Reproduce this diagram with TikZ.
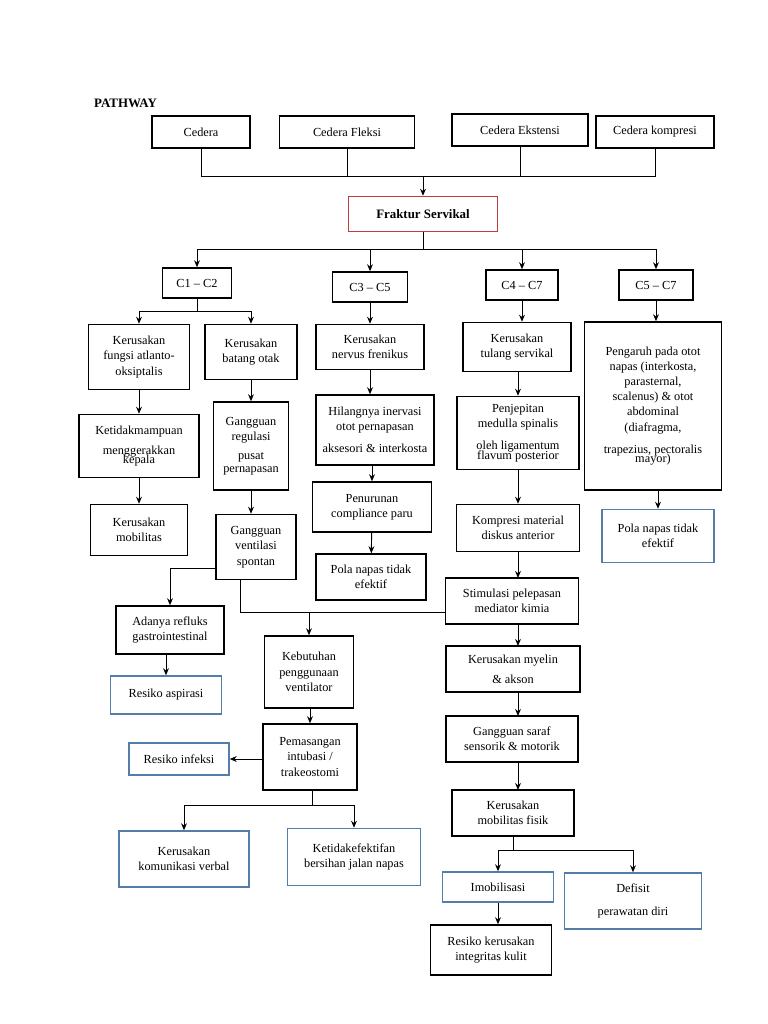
\documentclass[tikz,border=0pt]{standalone}
\usepackage{fontspec}
\setmainfont{Liberation Serif}
\usetikzlibrary{arrows.meta}
\definecolor{bblue}{RGB}{84,125,170}
\definecolor{rred}{RGB}{190,60,60}
\begin{document}
\begin{tikzpicture}[x=0.03cm,y=-0.03cm,
  every node/.style={font=\fontsize{10.5}{13}\selectfont},
  bx/.style 2 args={draw, line width=1.3pt, minimum width=#1*0.03cm, minimum height=#2*0.03cm, align=center, inner sep=1pt},
  bl/.style={draw=bblue},
  ln/.style={line width=0.8pt},
  ar/.style={line width=0.8pt, -{Stealth[length=6pt,width=5pt]}}]
\useasboundingbox (0,0) rectangle (768,1024);
\node[anchor=west, font=\fontsize{11}{13}\selectfont\bfseries] (title) at (90,103) {PATHWAY};
% top causes
\node[bx={98}{32}] (c1) at (201,132) {Cedera};
\node[bx={135}{32}] (c2) at (347,132) {Cedera Fleksi};
\node[bx={136}{32}] (c3) at (520,130) {Cedera Ekstensi};
\node[bx={118}{32}] (c4) at (655,132) {Cedera kompresi};
\node[bx={149}{35}, draw=rred, font=\fontsize{11}{13}\selectfont\bfseries] (fs) at (423,214) {Fraktur Servikal};
\coordinate (j0) at (423,176);
\draw[ln] (c1.south) -- (c1.south |- j0) -- (j0);
\draw[ln] (c2.south) -- (c2.south |- j0);
\draw[ln] (c3.south) -- (c3.south |- j0);
\draw[ln] (c4.south) -- (c4.south |- j0) -- (j0);
\draw[ar] (j0) -- (fs.north);
% levels
\node[bx={69}{30}] (l1) at (197,283) {C1 -- C2};
\node[bx={75}{30}] (l2) at (370,287) {C3 -- C5};
\node[bx={72}{30}] (l3) at (522,285) {C4 -- C7};
\node[bx={74}{30}] (l4) at (656,285) {C5 -- C7};
\coordinate (j1) at (423,249);
\draw[ln] (fs.south) -- (j1);
\draw[ln] (l1.north |- j1) -- (l4.north |- j1);
\foreach \n in {l1,l2,l3,l4} \draw[ar] (\n.north |- j1) -- (\n.north);
% C1-C2 column
\node[bx={101}{65}] (kf) at (139,357) {Kerusakan\\fungsi atlanto-\\oksiptalis};
\node[bx={92}{55}] (kb) at (251,352) {Kerusakan\\batang otak};
\coordinate (j2) at (197,311);
\draw[ln] (l1.south) -- (j2);
\draw[ln] (kf.north |- j2) -- (kb.north |- j2);
\draw[ar] (kf.north |- j2) -- (kf.north);
\draw[ar] (kb.north |- j2) -- (kb.north);
\node[bx={120}{63}] (km) at (139,446) {Ketidakmampuan\\[4pt]menggerakkan\\[-5pt]kepala};
\node[bx={97}{51}] (kmo) at (139,530) {Kerusakan\\mobilitas};
\draw[ar] (kf) -- (km);
\draw[ar] (km) -- (kmo);
\node[bx={75}{88}] (gr) at (251,446) {Gangguan\\regulasi\\[3pt]pusat\\[-2pt]pernapasan};
\node[bx={80}{65}] (gv) at (256,547) {Gangguan\\ventilasi\\spontan};
\draw[ar] (kb) -- (gr);
\draw[ar] (gr.south) -- (gr.south |- gv.north);
\node[bx={108}{48}] (ar1) at (170,630) {Adanya refluks\\gastrointestinal};
\node[bx={111}{38}, bl] (ra) at (166,695) {Resiko aspirasi};
\coordinate (j3) at (170,568);
\draw[ln] (gv.west |- j3) -- (j3);
\draw[ar] (j3) -- (ar1.north);
\draw[ar] (ar1.south -| ra.north) -- (ra.north);
\node[bx={89}{72}] (kv) at (309,672) {Kebutuhan\\penggunaan\\ventilator};
\coordinate (j4) at (240,612);
\draw[ln] (gv.south -| j4) -- (j4) -- (446,612);
\draw[ar] (kv.north |- j4) -- (kv.north);
\node[bx={94}{66}] (pi) at (310,757) {Pemasangan\\intubasi /\\trakeostomi};
\node[bx={100}{32}, bl] (ri) at (179,759) {Resiko infeksi};
\draw[ar] (kv.south -| pi.north) -- (pi.north);
\draw[ar] (pi.west |- ri.east) -- (ri.east);
\node[bx={130}{56}, bl] (kk) at (184,859) {Kerusakan\\komunikasi verbal};
\node[bx={133}{57}, bl] (kbj) at (354,857) {Ketidakefektifan\\bersihan jalan napas};
\coordinate (j5) at (312,805);
\draw[ln] (pi.south -| j5) -- (j5);
\draw[ln] (kk.north |- j5) -- (kbj.north |- j5);
\draw[ar] (kk.north |- j5) -- (kk.north);
\draw[ar] (kbj.north |- j5) -- (kbj.north);
% C3-C5 column
\node[bx={108}{45}] (kn) at (370,347) {Kerusakan\\nervus frenikus};
\node[bx={118}{70}] (hi) at (375,430) {Hilangnya inervasi\\otot pernapasan\\[6pt]aksesori \& interkosta};
\node[bx={119}{50}] (pc) at (372,507) {Penurunan\\compliance paru};
\node[bx={110}{46}] (pn) at (371,577) {Pola napas tidak\\efektif};
\draw[ar] (l2) -- (kn);
\draw[ar] (kn.south) -- (kn.south |- hi.north);
\draw[ar] (hi.south -| pc.north) -- (pc.north);
\draw[ar] (pc) -- (pn);
% C4-C7 column
\node[bx={108}{49}] (kt) at (517,347) {Kerusakan\\tulang servikal};
\node[bx={122}{73}] (pj) at (518,433) {Penjepitan\\medulla spinalis\\[6pt]oleh ligamentum\\[-5pt]flavum posterior};
\node[bx={123}{47}] (kd) at (518,528) {Kompresi material\\diskus anterior};
\node[bx={133}{46}] (sp) at (512,601) {Stimulasi pelepasan\\mediator kimia};
\node[bx={134}{46}] (my) at (513,669) {Kerusakan myelin\\[4pt]\& akson};
\node[bx={132}{46}] (gs) at (512,739) {Gangguan saraf\\sensorik \& motorik};
\node[bx={122}{46}] (mf) at (513,813) {Kerusakan\\mobilitas fisik};
\draw[ar] (l3.south) -- (l3.south |- kt.north);
\draw[ar] (kt.south -| pj.north) -- (pj.north);
\draw[ar] (pj) -- (kd);
\draw[ar] (kd.south -| 518,0) -- (518,578);
\draw[ar] (sp.south -| 518,0) -- (518,646);
\draw[ar] (my.south -| 518,0) -- (518,716);
\draw[ar] (gs.south -| 518,0) -- (518,790);
\node[bx={111}{30}, bl] (im) at (498,887) {Imobilisasi};
\node[bx={137}{56}, bl] (dp) at (633,901) {Defisit\\[6pt]perawatan diri};
\node[bx={121}{50}] (rk) at (491,950) {Resiko kerusakan\\integritas kulit};
\coordinate (j6) at (513,850);
\draw[ln] (mf.south -| j6) -- (j6);
\draw[ln] (im.north |- j6) -- (dp.north |- j6);
\draw[ar] (im.north |- j6) -- (im.north);
\draw[ar] (dp.north |- j6) -- (dp.north);
\draw[ar] (im.south) -- (im.south |- rk.north);
% C5-C7 column
\node[bx={137}{168}] (pg) at (653,406) {Pengaruh pada otot\\napas (interkosta,\\parasternal,\\scalenus) \& otot\\abdominal\\(diafragma,\\[6pt]trapezius, pectoralis\\[-5pt]mayor)};
\node[bx={112}{53}, bl] (pr) at (658,536) {Pola napas tidak\\efektif};
\draw[ar] (l4.south) -- (l4.south |- pg.north);
\draw[ar] (pg.south -| pr.north) -- (pr.north);
\end{tikzpicture}
\end{document}
